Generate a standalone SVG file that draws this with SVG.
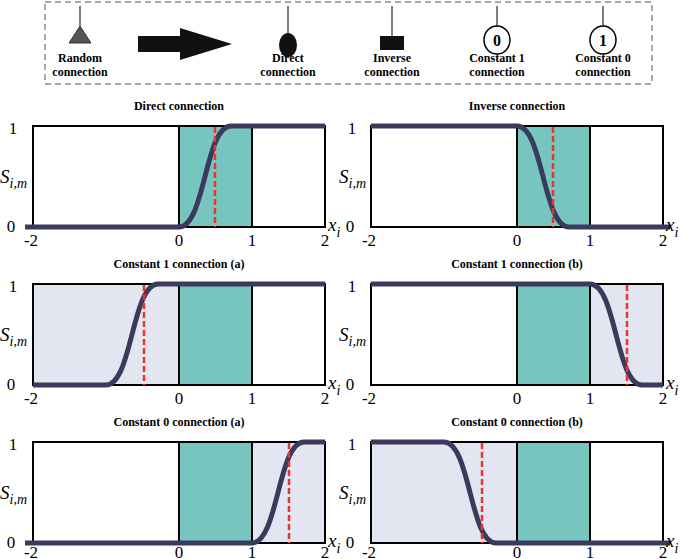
<svg xmlns="http://www.w3.org/2000/svg" width="685" height="559" viewBox="0 0 685 559">
<style>
text{font-family:'Liberation Serif','Times New Roman',serif}
.lg{font-weight:bold;font-size:12px;text-anchor:middle}
.tt{font-weight:bold;font-size:12px;text-anchor:middle}
.tk{font-size:17px;text-anchor:middle}
.ax{font-style:italic;font-size:19px}
.bx{fill:none;stroke:#000;stroke-width:2}
.tl{fill:#76c6bf;stroke:#000;stroke-width:2}
.lv{fill:#e3e5f1}
.cv{fill:none;stroke:#3a3a5c;stroke-width:5;stroke-linejoin:round}
.rd{stroke:#e8332e;stroke-width:2.5;stroke-dasharray:6,3}
</style>
<g id="legend">
<rect x="45" y="2" width="607" height="82" fill="none" stroke="#555" stroke-dasharray="6,4"/>
<line x1="80" y1="6" x2="80" y2="28" stroke="#000"/>
<polygon points="80,26 69,43 91,43" fill="#555" stroke="#333"/>
<text class="lg" x="80" y="62">Random</text><text class="lg" x="80" y="76">connection</text>
<polygon points="138,36 180,36 180,28 232,44 180,60 180,52 138,52" fill="#111"/>
<line x1="288" y1="6" x2="288" y2="33" stroke="#000"/>
<ellipse cx="288" cy="45" rx="9" ry="12" fill="#111"/>
<text class="lg" x="288" y="62">Direct</text><text class="lg" x="288" y="76">connection</text>
<line x1="392" y1="6" x2="392" y2="36" stroke="#000"/>
<rect x="380" y="36" width="24" height="14" fill="#111"/>
<text class="lg" x="392" y="62">Inverse</text><text class="lg" x="392" y="76">connection</text>
<line x1="497" y1="6" x2="497" y2="27" stroke="#000"/>
<ellipse cx="497" cy="40" rx="13" ry="14" fill="#fff" stroke="#000" stroke-width="1.5"/>
<text x="497" y="46" style="font-weight:bold;font-size:16px;text-anchor:middle">0</text>
<text class="lg" x="497" y="62">Constant 1</text><text class="lg" x="497" y="76">connection</text>
<line x1="603" y1="6" x2="603" y2="27" stroke="#000"/>
<ellipse cx="603" cy="40" rx="13" ry="14" fill="#fff" stroke="#000" stroke-width="1.5"/>
<text x="603" y="46" style="font-weight:bold;font-size:16px;text-anchor:middle">1</text>
<text class="lg" x="603" y="62">Constant 0</text><text class="lg" x="603" y="76">connection</text>
</g>

<g id="p1">
<text class="tt" x="179" y="110">Direct connection</text>
<rect class="tl" x="179" y="126" width="73" height="101"/>
<rect class="bx" x="33" y="126" width="292" height="101"/>
<path class="cv" d="M25,227 H179 C205,227 205,126 231,126 H325"/>
<line class="rd" x1="215" y1="127" x2="215" y2="227"/>
</g>
<g id="p2">
<text class="tt" x="517" y="110">Inverse connection</text>
<rect class="tl" x="517" y="126" width="73" height="101"/>
<rect class="bx" x="371" y="126" width="292" height="101"/>
<path class="cv" d="M371,126 H517 C543,126 543,227 569,227 H670"/>
<line class="rd" x1="553" y1="127" x2="553" y2="227"/>
</g>
<g id="p3">
<text class="tt" x="179" y="268">Constant 1 connection (a)</text>
<rect class="lv" x="33" y="284" width="146" height="101"/>
<rect class="tl" x="179" y="284" width="73" height="101"/>
<rect class="bx" x="33" y="284" width="292" height="101"/>
<path class="cv" d="M33,385 H106 C132,385 132,284 158,284 H325"/>
<line class="rd" x1="144" y1="285" x2="144" y2="385"/>
</g>
<g id="p4">
<text class="tt" x="517" y="268">Constant 1 connection (b)</text>
<rect class="lv" x="590" y="284" width="73" height="101"/>
<rect class="tl" x="517" y="284" width="73" height="101"/>
<rect class="bx" x="371" y="284" width="292" height="101"/>
<path class="cv" d="M371,284 H590 C616,284 616,385 642,385 H663"/>
<line class="rd" x1="627" y1="285" x2="627" y2="385"/>
</g>
<g id="p5">
<text class="tt" x="179" y="426">Constant 0 connection (a)</text>
<rect class="lv" x="252" y="442" width="73" height="101"/>
<rect class="tl" x="179" y="442" width="73" height="101"/>
<rect class="bx" x="33" y="442" width="292" height="101"/>
<path class="cv" d="M25,543 H252 C278,543 278,442 304,442 H325"/>
<line class="rd" x1="289" y1="443" x2="289" y2="543"/>
</g>
<g id="p6">
<text class="tt" x="517" y="426">Constant 0 connection (b)</text>
<rect class="lv" x="371" y="442" width="146" height="101"/>
<rect class="tl" x="517" y="442" width="73" height="101"/>
<rect class="bx" x="371" y="442" width="292" height="101"/>
<path class="cv" d="M371,442 H444 C470,442 470,543 496,543 H670"/>
<line class="rd" x1="482" y1="443" x2="482" y2="543"/>
</g>

<g id="labels">
<g class="tk">
<text x="13" y="134">1</text><text x="11" y="232">0</text>
<text x="13" y="292">1</text><text x="11" y="390">0</text>
<text x="13" y="450">1</text><text x="11" y="548">0</text>
<text x="352" y="134">1</text><text x="350" y="232">0</text>
<text x="352" y="292">1</text><text x="350" y="390">0</text>
<text x="352" y="450">1</text><text x="350" y="548">0</text>
<text x="31" y="246">-2</text><text x="179" y="246">0</text><text x="252" y="246">1</text><text x="325" y="246">2</text>
<text x="369" y="246">-2</text><text x="517" y="246">0</text><text x="590" y="246">1</text><text x="663" y="246">2</text>
<text x="31" y="404">-2</text><text x="179" y="404">0</text><text x="252" y="404">1</text><text x="325" y="404">2</text>
<text x="369" y="404">-2</text><text x="517" y="404">0</text><text x="590" y="404">1</text><text x="663" y="404">2</text>
<text x="31" y="558">-2</text><text x="179" y="558">0</text><text x="252" y="558">1</text><text x="325" y="558">2</text>
<text x="369" y="558">-2</text><text x="517" y="558">0</text><text x="590" y="558">1</text><text x="663" y="558">2</text>
</g>
<g class="ax">
<text x="0" y="183">S<tspan font-size="14" dy="5">i,m</tspan></text>
<text x="339" y="183">S<tspan font-size="14" dy="5">i,m</tspan></text>
<text x="0" y="341">S<tspan font-size="14" dy="5">i,m</tspan></text>
<text x="339" y="341">S<tspan font-size="14" dy="5">i,m</tspan></text>
<text x="0" y="499">S<tspan font-size="14" dy="5">i,m</tspan></text>
<text x="339" y="499">S<tspan font-size="14" dy="5">i,m</tspan></text>
<text x="328" y="231">x<tspan font-size="14" dy="6">i</tspan></text>
<text x="666" y="231">x<tspan font-size="14" dy="6">i</tspan></text>
<text x="328" y="389">x<tspan font-size="14" dy="6">i</tspan></text>
<text x="666" y="389">x<tspan font-size="14" dy="6">i</tspan></text>
<text x="328" y="547">x<tspan font-size="14" dy="6">i</tspan></text>
<text x="666" y="547">x<tspan font-size="14" dy="6">i</tspan></text>
</g>
</g>
</svg>
